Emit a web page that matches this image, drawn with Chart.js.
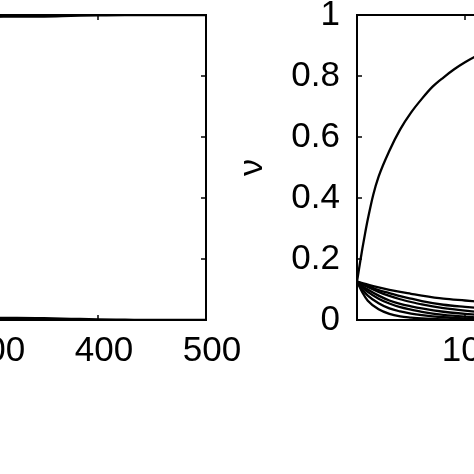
<!DOCTYPE html>
<html lang="en">
<head>
    <meta charset="UTF-8">
    <title>Two panels</title>
    <style>
        body { margin: 0; background: #fff; }
        #wrap { position: relative; width: 474px; height: 474px; overflow: hidden; background: #fff; }
        #wrap canvas { position: absolute; top: 0; }
        #leftChart { left: -434px; }
        #rightChart { left: 237px; }
    </style>
    <script src="https://cdn.jsdelivr.net/npm/chart.js"></script>
</head>
<body>
<div id="wrap">
    <canvas id="leftChart" width="700" height="474"></canvas>
    <canvas id="rightChart" width="700" height="474"></canvas>
</div>
<script>
    // tick values and labels (both panels); no label drawn at x = 0
    const xTicks = [0, 100, 200, 300, 400, 500];
    const xTickLabels = ['', '100', '200', '300', '400', '500'];
    const yTicks = [0, 0.2, 0.4, 0.6, 0.8, 1];
    const yTickLabels = ['0', '0.2', '0.4', '0.6', '0.8', '1'];
    const yTitle = 'ν';

    // left panel: curves pinned at the top and bottom
    const leftX = [250, 300, 325, 350, 375, 400, 425, 450, 500];
    const leftUpper = [0.994, 0.994, 0.995, 0.995, 0.997, 0.999, 1, 1, 1];
    const leftLower = [0.007, 0.007, 0.007, 0.006, 0.004, 0.002, 0.001, 0, 0];

    // right panel: one rising curve
    const riseX = [0, 2, 5, 7.5, 10, 15, 20, 30, 40, 50, 60, 70, 80, 90, 100, 110, 120, 150, 200];
    const rise = [0.126, 0.17, 0.235, 0.284, 0.33, 0.41, 0.47, 0.555, 0.625, 0.68, 0.725, 0.765, 0.795, 0.822, 0.845, 0.865, 0.88, 0.91, 0.94];

    // right panel: decaying curves
    const decayX = [0, 5, 10, 20, 30, 40, 50, 60, 80, 100, 120, 150];
    const decay1 = [0.126, 0.121, 0.116, 0.107, 0.099, 0.092, 0.086, 0.080, 0.070, 0.064, 0.058, 0.050];
    const decay2 = [0.126, 0.119, 0.112, 0.098, 0.088, 0.078, 0.070, 0.062, 0.050, 0.043, 0.037, 0.030];
    const decay3 = [0.126, 0.117, 0.108, 0.092, 0.079, 0.068, 0.059, 0.051, 0.039, 0.031, 0.025, 0.018];
    const decay4 = [0.126, 0.112, 0.100, 0.080, 0.064, 0.053, 0.045, 0.038, 0.027, 0.020, 0.015, 0.010];
    const decay5 = [0.126, 0.108, 0.092, 0.070, 0.054, 0.042, 0.034, 0.027, 0.017, 0.011, 0.007, 0.004];
    const decay6 = [0.126, 0.100, 0.080, 0.055, 0.038, 0.028, 0.021, 0.016, 0.009, 0.005, 0.003, 0.001];
    const decay7 = [0.126, 0.090, 0.063, 0.035, 0.020, 0.012, 0.008, 0.005, 0.002, 0.001, 0.000, 0.000];

    const font = { family: "'Liberation Sans', Arial, sans-serif", size: 35 };

    function series(xs, ys) {
        return {
            data: xs.map((x, i) => ({ x: x, y: ys[i] })),
            showLine: true,
            borderColor: '#000',
            borderWidth: 2.3,
            pointRadius: 0,
            cubicInterpolationMode: 'monotone'
        };
    }

    // box round the plot area with small inward ticks, matlab style
    const boxTicks = {
        id: 'boxTicks',
        afterDraw(chart) {
            const { ctx, chartArea: a, scales: { x, y } } = chart;
            ctx.save();
            ctx.strokeStyle = '#000';
            ctx.lineWidth = 2;
            ctx.strokeRect(a.left, a.top, a.right - a.left, a.bottom - a.top);
            ctx.lineWidth = 1.5;
            ctx.beginPath();
            x.ticks.forEach(t => {
                const px = x.getPixelForValue(t.value);
                if (px <= a.left + 1 || px >= a.right - 1) return;
                ctx.moveTo(px, a.bottom); ctx.lineTo(px, a.bottom - 5);
                ctx.moveTo(px, a.top); ctx.lineTo(px, a.top + 5);
            });
            y.ticks.forEach(t => {
                const py = y.getPixelForValue(t.value);
                if (py <= a.top + 1 || py >= a.bottom - 1) return;
                ctx.moveTo(a.left, py); ctx.lineTo(a.left + 5, py);
                ctx.moveTo(a.right, py); ctx.lineTo(a.right - 5, py);
            });
            ctx.stroke();
            ctx.restore();
        }
    };

    function makeChart(id, datasets, yAxisWidth, rightPad, showTitle) {
        new Chart(document.getElementById(id), {
            type: 'scatter',
            data: { datasets: datasets },
            plugins: [boxTicks],
            options: {
                responsive: false,
                animation: false,
                layout: { padding: { top: 15, right: rightPad, left: 0, bottom: 0 } },
                plugins: { legend: { display: false }, tooltip: { enabled: false } },
                scales: {
                    x: {
                        type: 'linear',
                        min: 0,
                        max: 500,
                        afterBuildTicks: s => { s.ticks = xTicks.map(v => ({ value: v })); },
                        afterFit: s => { s.height = 154; s.paddingLeft = 0; s.paddingRight = 0; },
                        grid: { display: false, drawTicks: false },
                        border: { display: false },
                        ticks: {
                            color: '#000',
                            font: font,
                            padding: 10,
                            labelOffset: 6,
                            maxRotation: 0,
                            autoSkip: false,
                            callback: v => xTickLabels[xTicks.indexOf(v)]
                        }
                    },
                    y: {
                        type: 'linear',
                        min: 0,
                        max: 1,
                        afterBuildTicks: s => { s.ticks = yTicks.map(v => ({ value: v })); },
                        afterFit: s => { s.width = yAxisWidth; s.paddingTop = 0; s.paddingBottom = 0; },
                        grid: { display: false, drawTicks: false },
                        border: { display: false },
                        title: {
                            display: showTitle,
                            text: yTitle,
                            color: '#000',
                            font: { family: font.family, size: 34, lineHeight: 0.9 },
                            padding: { top: 0, bottom: 0 }
                        },
                        ticks: {
                            color: '#000',
                            font: font,
                            padding: 17,
                            autoSkip: false,
                            callback: v => yTickLabels[yTicks.indexOf(v)]
                        }
                    }
                }
            }
        });
    }

    makeChart('leftChart', [
        series(leftX, leftUpper),
        series(leftX, leftLower)
    ], 100, 60, false);

    makeChart('rightChart', [
        series(riseX, rise),
        series(decayX, decay1),
        series(decayX, decay2),
        series(decayX, decay3),
        series(decayX, decay4),
        series(decayX, decay5),
        series(decayX, decay6),
        series(decayX, decay7)
    ], 120, 40, true);
</script>
</body>
</html>
